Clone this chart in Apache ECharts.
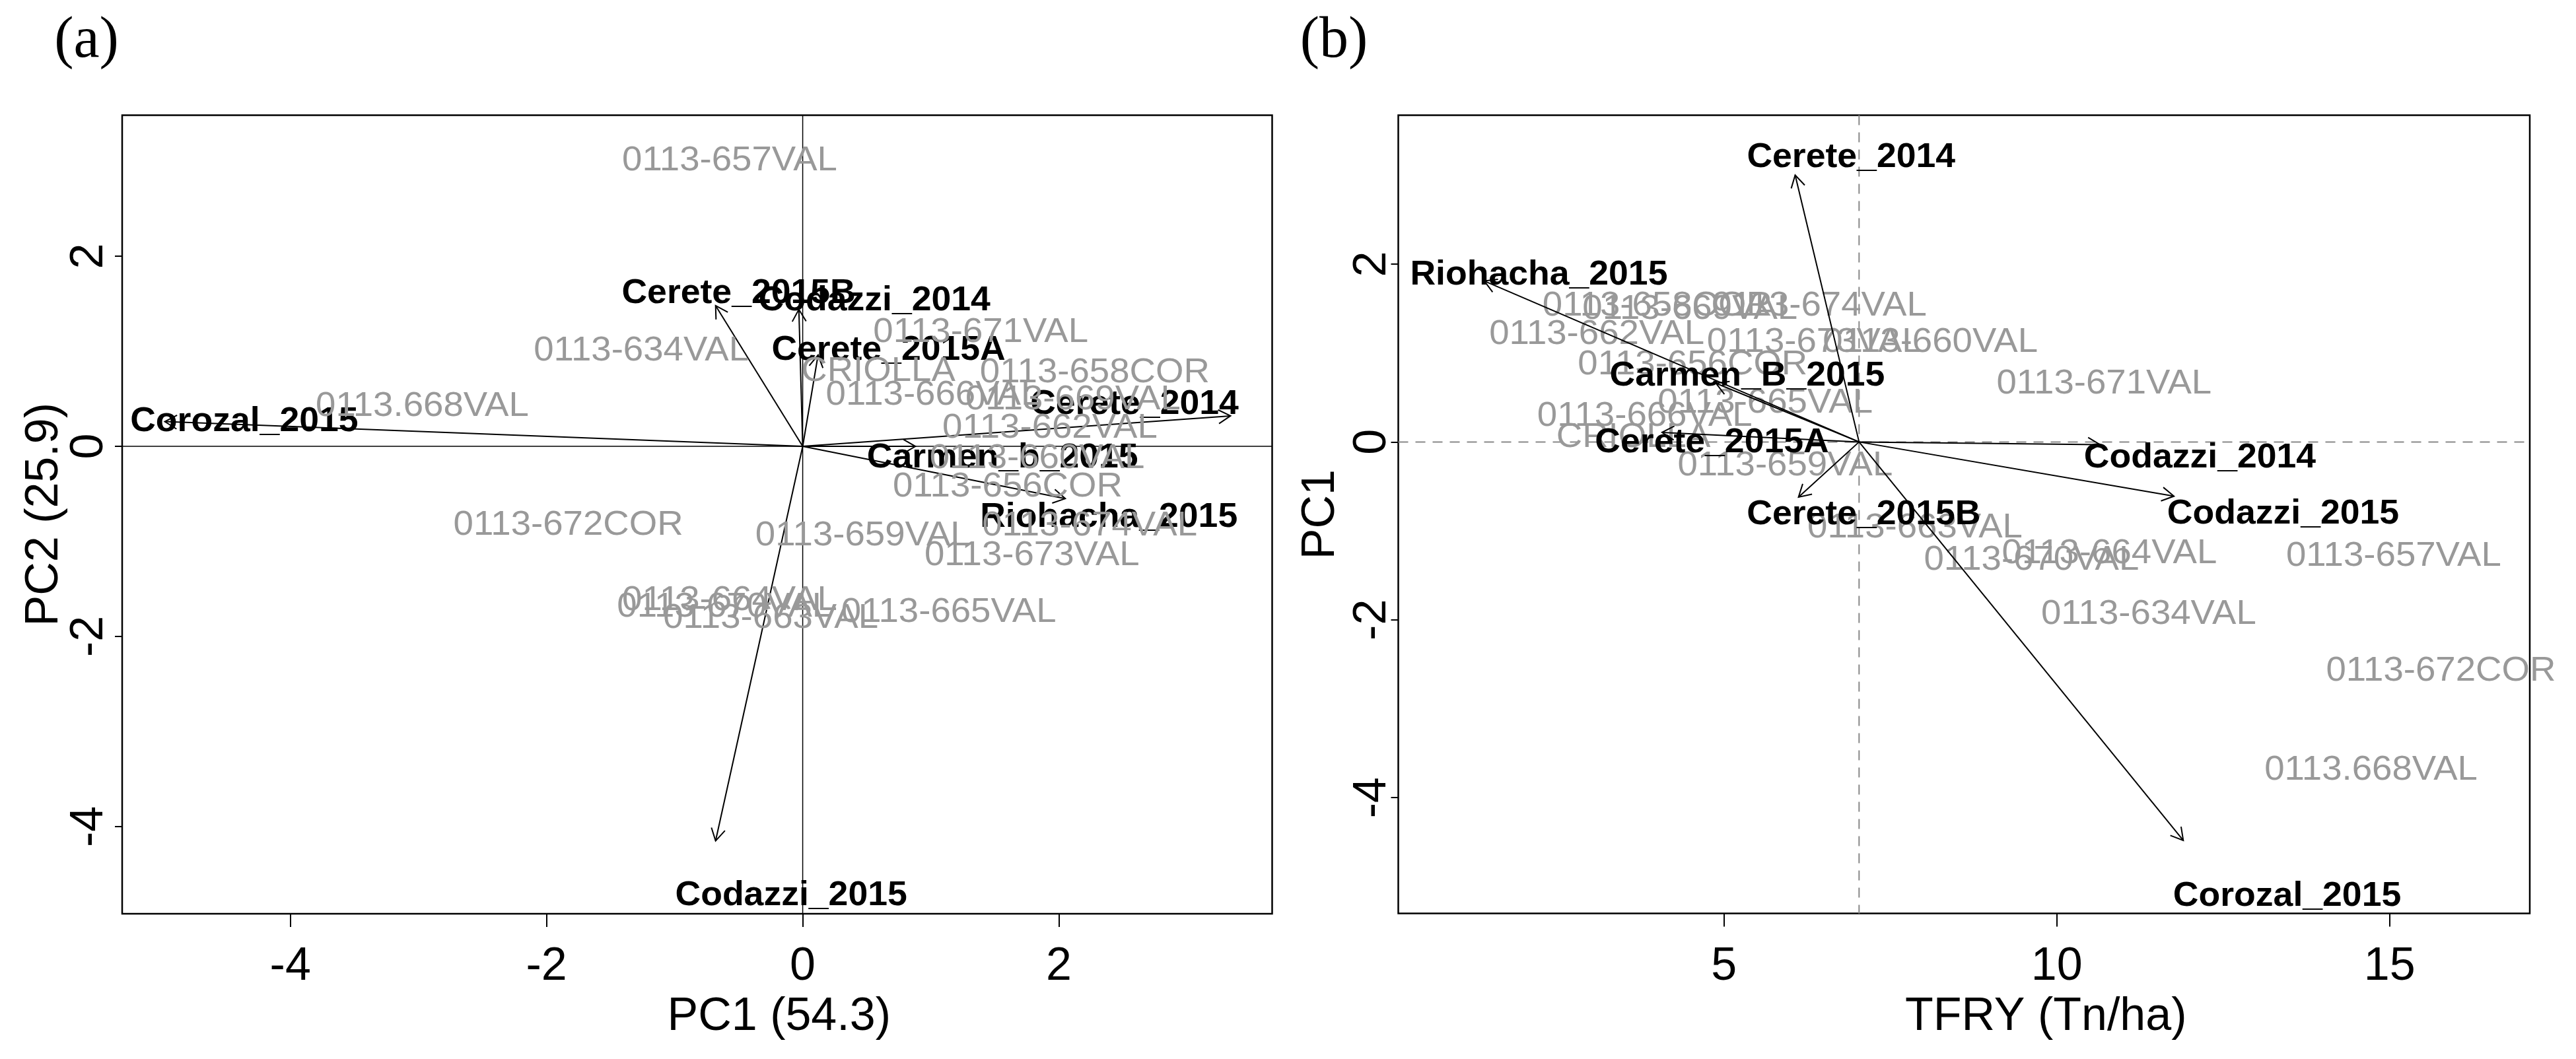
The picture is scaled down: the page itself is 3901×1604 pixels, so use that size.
<!DOCTYPE html>
<html><head><meta charset="utf-8">
<script src="https://cdn.jsdelivr.net/npm/echarts@6/dist/echarts.min.js"></script>
<style>html,body{margin:0;padding:0;background:#fff}#c{width:3901px;height:1604px}</style>
</head><body><div id="c"></div>
<script>
// ---------- Panel (a): PCA biplot ----------
const aEnvNames = ['Corozal_2015','Cerete_2015B','Codazzi_2014','Cerete_2015A','Cerete_2014','Carmen_b_2015','Riohacha_2015','Codazzi_2015'];
const aEnvTipX  = [-4.98,-0.68,-0.03,0.12,3.34,0.88,2.05,-0.68];
const aEnvTipY  = [0.26,1.48,1.44,0.96,0.32,0.0,-0.55,-4.15];
const aEnvLabX  = [-4.36,-0.50,0.56,0.67,2.59,1.56,2.39,-0.09];
const aEnvLabY  = [0.26,1.61,1.53,1.01,0.44,-0.12,-0.75,-4.73];
const aGenNames = ['0113-657VAL','0113-634VAL','0113.668VAL','0113-672COR','0113-671VAL','CRIOLLA','0113-658COR','0113-666VAL','0113-669VAL','0113-662VAL','0113-660VAL','0113-656COR','0113-659VAL','0113-674VAL','0113-673VAL','0113-665VAL','0113-664VAL','0113-670VAL','0113-663VAL'];
const aGenX = [-0.57,-1.26,-2.97,-1.83,1.39,0.59,2.28,1.02,2.11,1.93,1.83,1.60,0.47,2.24,1.79,1.14,-0.57,-0.61,-0.25];
const aGenY = [3.00,1.00,0.42,-0.83,1.20,0.79,0.775,0.536,0.486,0.19,-0.13,-0.43,-0.94,-0.84,-1.15,-1.75,-1.62,-1.69,-1.81];
const aOrigin = [0, 0];
const aXTicks = [-4,-2,0,2];
const aYTicks = [-4,-2,0,2];

// ---------- Panel (b): TFRY vs PC1 ----------
const bEnvNames = ['Cerete_2014','Riohacha_2015','Carmen_B_2015','Cerete_2015A','Cerete_2015B','Codazzi_2014','Codazzi_2015','Corozal_2015'];
const bEnvTipX  = [6.07,1.40,4.88,4.07,6.12,10.65,11.76,11.90];
const bEnvTipY  = [3.00,1.81,0.66,0.107,-0.62,-0.03,-0.61,-4.48];
const bEnvLabX  = [6.91,2.22,5.35,4.82,7.10,12.15,13.40,13.46];
const bEnvLabY  = [3.20,1.875,0.74,-0.01,-0.82,-0.18,-0.81,-5.11];
const bGenNames = ['0113-658COR','0113-669VAL','0113-674VAL','0113-662VAL','0113-673VAL','0113-660VAL','0113-656COR','0113-665VAL','0113-666VAL','CRIOLLA','0113-659VAL','0113-671VAL','0113-663VAL','0113-670VAL','0113-664VAL','0113-657VAL','0113-634VAL','0113-672COR','0113.668VAL'];
const bGenX = [4.00,4.49,6.43,3.09,6.36,8.10,4.53,5.62,3.81,3.64,5.92,10.71,7.87,9.62,10.79,15.06,11.38,15.77,14.72];
const bGenY = [1.53,1.49,1.53,1.21,1.12,1.12,0.87,0.435,0.29,0.05,-0.27,0.65,-0.97,-1.33,-1.26,-1.285,-1.94,-2.58,-3.69];
const bOrigin = [7.03, 0];
const bXTicks = [5,10,15];
const bYTicks = [-4,-2,0,2];

const FF = '"Liberation Sans", Arial, sans-serif';

function textSeries(ai, names, xs, ys, font, color, z, sx) {
  return {
    type:'custom', xAxisIndex:ai, yAxisIndex:ai, z:z, silent:true, clip:false,
    data: xs.map((x,i)=>[x, ys[i]]),
    encode:{x:0, y:1},
    renderItem:(params, api)=>{
      const p = api.coord([api.value(0), api.value(1)]);
      return {type:'text', x:p[0], y:p[1], scaleX:sx,
        style:{text:names[params.dataIndex], font:font, fill:color, align:'center', verticalAlign:'middle'}};
    }
  };
}
function arrowSeries(ai, origin, txs, tys) {
  return {
    type:'custom', xAxisIndex:ai, yAxisIndex:ai, z:3, silent:true, clip:false,
    data: txs.map((x,i)=>[origin[0], origin[1], x, tys[i]]),
    encode:{x:[0,2], y:[1,3]},
    renderItem:(params, api)=>{
      const p0 = api.coord([api.value(0), api.value(1)]);
      const p1 = api.coord([api.value(2), api.value(3)]);
      const ang = Math.atan2(p1[1]-p0[1], p1[0]-p0[0]);
      const L = 21, A = Math.PI/6;
      const h1 = [p1[0]-L*Math.cos(ang-A), p1[1]-L*Math.sin(ang-A)];
      const h2 = [p1[0]-L*Math.cos(ang+A), p1[1]-L*Math.sin(ang+A)];
      return {type:'group', children:[
        {type:'line', shape:{x1:p0[0],y1:p0[1],x2:p1[0],y2:p1[1]}, style:{stroke:'#000', lineWidth:2}},
        {type:'polyline', shape:{points:[h1,p1,h2]}, style:{stroke:'#000', lineWidth:2, fill:null}}
      ]};
    }
  };
}
function crossSeries(ai, origin, style) {
  return {
    type:'custom', xAxisIndex:ai, yAxisIndex:ai, z:1, silent:true,
    data:[origin],
    encode:{x:0, y:1},
    renderItem:(params, api)=>{
      const cs = params.coordSys;
      const p = api.coord([api.value(0), api.value(1)]);
      return {type:'group', children:[
        {type:'line', shape:{x1:cs.x, y1:p[1], x2:cs.x+cs.width, y2:p[1]}, style:style},
        {type:'line', shape:{x1:p[0], y1:cs.y, x2:p[0], y2:cs.y+cs.height}, style:style}
      ]};
    }
  };
}

function xAxisCfg(gi, min, max, ticks, name) {
  return {
    type:'value', gridIndex:gi, min:min, max:max, position:'bottom',
    axisLine:{show:false, onZero:false}, splitLine:{show:false},
    axisTick:{show:true, customValues:ticks, length:20, lineStyle:{color:'#000', width:2}},
    axisLabel:{customValues:ticks, fontSize:70, fontFamily:FF, color:'#000', margin:46},
    name:name, nameLocation:'middle', nameGap:122, nameMoveOverlap:false,
    nameTextStyle:{fontSize:70, fontFamily:FF, color:'#000', padding:[0,0,0,248]}
  };
}
function yAxisCfg(gi, min, max, ticks, name, lm) {
  return {
    type:'value', gridIndex:gi, min:min, max:max, position:'left',
    axisLine:{show:false, onZero:false}, splitLine:{show:false},
    axisTick:{show:true, customValues:ticks, length:11, lineStyle:{color:'#000', width:2}},
    axisLabel:{customValues:ticks, fontSize:70, fontFamily:FF, color:'#000', rotate:90, margin:lm},
    name:name, nameLocation:'middle', nameGap:82, nameMoveOverlap:false,
    nameTextStyle:{fontSize:70, fontFamily:FF, color:'#000'}
  };
}

const chart = echarts.init(document.getElementById('c'), null, {renderer:'canvas'});
const gridStyle = {show:true, borderColor:'#000', borderWidth:2.5, backgroundColor:'rgba(0,0,0,0)', containLabel:false, outerBoundsMode:'none'};
const option = {
  animation:false,
  backgroundColor:'#fff',
  grid:[
    Object.assign({left:185, top:174.5, width:1741.5, height:1209.5}, gridStyle),
    Object.assign({left:2117.5, top:174.6, width:1713.5, height:1209}, gridStyle)
  ],
  xAxis:[
    xAxisCfg(0, -5.313, 3.665, aXTicks, 'PC1 (54.3)'),
    xAxisCfg(1, 0.108, 17.105, bXTicks, 'TFRY (Tn/ha)')
  ],
  yAxis:[
    yAxisCfg(0, -4.917, 3.483, aYTicks, 'PC2 (25.9)', 14),
    yAxisCfg(1, -5.302, 3.673, bYTicks, 'PC1', 4)
  ],
  graphic:[
    {type:'text', x:131, y:63, style:{text:'(a)', font:'88px "Liberation Serif", "Times New Roman", serif', fill:'#000', align:'center', verticalAlign:'middle'}},
    {type:'text', x:2020, y:63, style:{text:'(b)', font:'88px "Liberation Serif", "Times New Roman", serif', fill:'#000', align:'center', verticalAlign:'middle'}}
  ],
  series:[
    crossSeries(0, aOrigin, {stroke:'#000', lineWidth:1.5}),
    arrowSeries(0, aOrigin, aEnvTipX, aEnvTipY),
    textSeries(0, aEnvNames, aEnvLabX, aEnvLabY, 'bold 52px '+FF, '#000', 4, 1.03),
    textSeries(0, aGenNames, aGenX, aGenY, '52px '+FF, '#999999', 5, 1.05),
    crossSeries(1, bOrigin, {stroke:'#888', lineWidth:2, lineDash:[15,11]}),
    textSeries(1, bGenNames, bGenX, bGenY, '52px '+FF, '#999999', 2, 1.05),
    arrowSeries(1, bOrigin, bEnvTipX, bEnvTipY),
    textSeries(1, bEnvNames, bEnvLabX, bEnvLabY, 'bold 52px '+FF, '#000', 4, 1.03)
  ]
};
chart.setOption(option);
</script>
</body></html>
